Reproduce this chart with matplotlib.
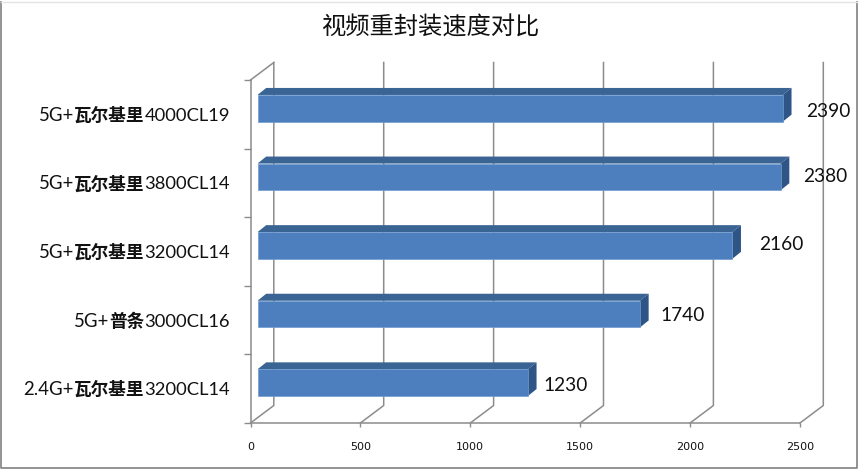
import matplotlib
matplotlib.use("Agg")
from matplotlib import pyplot as plt
from matplotlib.offsetbox import AnnotationBbox, HPacker, TextArea
from matplotlib.lines import Line2D

# bottom to top, as the axis counts them
prefix = ["2.4G+", "5G+", "5G+", "5G+", "5G+"]
memory = ["瓦尔基里", "普条", "瓦尔基里", "瓦尔基里", "瓦尔基里"]
suffix = ["3200CL14", "3000CL16", "3200CL14", "3800CL14", "4000CL19"]
speed = [1230, 1740, 2160, 2380, 2390]
xticks = [0, 500, 1000, 1500, 2000, 2500]

# hand placed data labels, in pixels from the end of each bar
label_dx = [7, 12, 18, 14, 15]
label_dy = [-3, -1, 1, 0, -3]

W, H = 861, 470
LATIN = "Lato"
CJK = "Noto Sans CJK SC"
GRID = "#8c8c8c"
TEXT = "#111111"

fig = plt.figure(figsize=(W / 100, H / 100), dpi=100, facecolor="white")
ax = fig.add_axes([250.5 / W, 1 - 423 / H, 549.5 / W, 343 / H])
ax.set_xlim(0, 2500)
ax.set_ylim(0, 5)
ax.patch.set_visible(False)

# pixel sizes of the fake 3d, turned into data units
px_x = 2500 / 549.5
px_y = 5 / 343
wall_dx, wall_dy = 23.3 * px_x, 17.5 * px_y
bar_left, bar_up = 7 * px_x, 6 * px_y
depth_x, depth_y = 8.7 * px_x, 7 * px_y
bar_h = 26.7 * px_y

for s in ["top", "right"]:
    ax.spines[s].set_visible(False)
for s in ["left", "bottom"]:
    ax.spines[s].set_color(GRID)
    ax.spines[s].set_linewidth(1.1)

# wall lines
for t in xticks:
    ax.plot([t, t + wall_dx, t + wall_dx], [0, wall_dy, 5 + wall_dy],
            color=GRID, lw=1.1, clip_on=False, zorder=1)
ax.plot([0, wall_dx], [5, 5 + wall_dy], color=GRID, lw=1.1, clip_on=False, zorder=1)

# bars
for i, v in enumerate(speed):
    y0 = i + 0.5 + bar_up - bar_h / 2
    y1 = y0 + bar_h
    x0 = bar_left
    x1 = bar_left + v
    ax.fill([x0, x0 + depth_x, x1 + depth_x, x1], [y1, y1 + depth_y, y1 + depth_y, y1],
            color="#3a6494", lw=0, clip_on=False, zorder=2)
    ax.fill([x1, x1 + depth_x, x1 + depth_x, x1], [y0, y0 + depth_y, y1 + depth_y, y1],
            color="#2f5587", lw=0, clip_on=False, zorder=2)
    ax.barh(i + 0.5 + bar_up, v, height=bar_h, left=x0, color="#4d7fbe",
            edgecolor="#6f9bd1", linewidth=0.5, clip_on=False, zorder=3)
    ax.annotate(str(v), (x1 + depth_x, i + 0.5 + bar_up), xycoords="data",
                xytext=(label_dx[i] * 0.72, label_dy[i] * 0.72), textcoords="offset points",
                ha="left", va="center", fontsize=13.8, family=LATIN, color=TEXT, zorder=5)

ax.set_xticks(xticks)
ax.set_yticks(range(6))
ax.set_yticklabels([])
ax.tick_params(axis="x", length=3, width=1, color=GRID, pad=10.5, labelsize=8, labelcolor=TEXT)
ax.tick_params(axis="y", length=5, width=1, color=GRID)

# category labels: latin + bold chinese + latin
for i in range(len(speed)):
    parts = [
        TextArea(prefix[i], textprops=dict(fontsize=13.4, family=LATIN, color=TEXT)),
        TextArea(memory[i], textprops=dict(fontsize=12.7, family=CJK, weight="black", color=TEXT)),
        TextArea(suffix[i], textprops=dict(fontsize=13.2, family=LATIN, color=TEXT)),
    ]
    box = HPacker(children=parts, align="baseline", pad=0, sep=0)
    ab = AnnotationBbox(box, (230 / W, i + 0.5 - 1.5 * px_y), xycoords=("figure fraction", "data"),
                        box_alignment=(1, 0.5), frameon=False, annotation_clip=False)
    ax.add_artist(ab)

fig.text(430 / W, 1 - 28 / H, "视频重封装速度对比", family=CJK, fontsize=17.5, weight="medium",
         ha="center", va="center", color=TEXT)

# chart frame, the top edge is nearly gone in the original
frame_x = [1 / W, 1 / W, 857 / W, 857 / W]
frame_y = [1 - 2 / H, 1 - 468 / H, 1 - 468 / H, 1 - 2 / H]
fig.add_artist(Line2D(frame_x, frame_y, transform=fig.transFigure, color="#8a8a8a", lw=1.3))
fig.add_artist(Line2D([1 / W, 857 / W], [1 - 2 / H, 1 - 2 / H], transform=fig.transFigure,
                      color="#e4e4e4", lw=1))

fig.savefig("out.png", dpi=100)
